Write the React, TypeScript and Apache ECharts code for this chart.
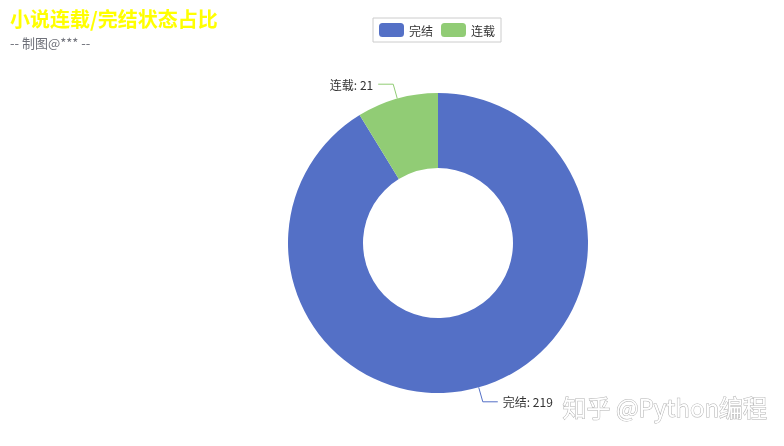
import React, { useEffect, useRef } from "react";
import * as echarts from "echarts";

const categories = ["完结", "连载"];
const values = [219, 21];
const colors = ["#5470c6", "#91cc75"];

export default function App() {
  const ref = useRef<HTMLDivElement>(null);
  useEffect(() => {
    if (!ref.current) return;
    const chart = echarts.init(ref.current, undefined, { renderer: "svg" });
    const font = "'Microsoft YaHei', 'Noto Sans CJK SC', sans-serif";
    chart.setOption({
      animation: false,
      color: colors,
      textStyle: { fontFamily: font },
      title: {
        text: "小说连载/完结状态占比",
        subtext: "-- 制图@*** --",
        left: 5,
        top: 3,
        itemGap: 8,
        textStyle: { color: "#ffff00", fontSize: 20, fontWeight: "bold", fontFamily: font },
        subtextStyle: { color: "#6e7079", fontSize: 13, fontFamily: font },
      },
      legend: {
        data: categories,
        top: 18,
        left: 373,
        borderColor: "#ccc",
        borderWidth: 1,
        padding: [5, 6],
        itemWidth: 25,
        itemHeight: 14,
        textStyle: { color: "#333", fontSize: 12, fontFamily: font },
      },
      series: [
        {
          type: "pie",
          center: [438, 243],
          radius: [75, 150],
          data: categories.map((c, i) => ({ name: c, value: values[i] })),
          label: { formatter: "{b}: {c}", color: "#333", fontSize: 12, fontFamily: font },
          labelLine: { length: 15, length2: 15 },
        },
      ],
      graphic: [
        {
          type: "text",
          left: 562,
          top: 394,
          style: {
            text: "知乎 @Python编程",
            fontSize: 24,
            fontFamily: font,
            fill: "#ffffff",
            stroke: "#b0b0b0",
            lineWidth: 1,
          },
        },
      ],
    });
    return () => chart.dispose();
  }, []);
  return (
    <div
      ref={ref}
      style={{ position: "fixed", left: 0, top: 0, width: 784, height: 446 }}
    />
  );
}
